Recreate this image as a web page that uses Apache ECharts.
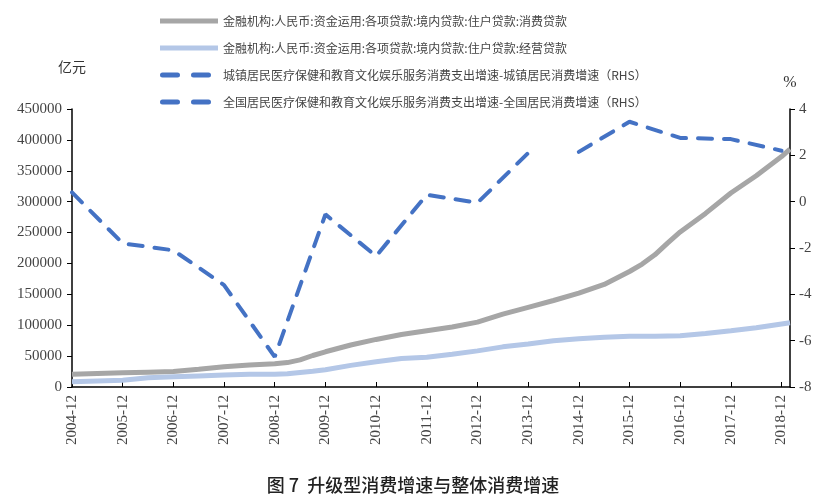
<!DOCTYPE html>
<html><head><meta charset="utf-8">
<script src="https://cdn.jsdelivr.net/npm/echarts@6/dist/echarts.min.js"></script>
<style>html,body{margin:0;padding:0;background:#fff}#c{width:826px;height:501px}</style>
</head><body><div id="c"></div>
<script>
// Loan series (亿元), sampled dates
const loanDates = ['2004-12','2005-06','2005-12','2006-06','2006-12','2007-06','2007-12','2008-06','2008-12','2009-03','2009-06','2009-09','2009-12','2010-06','2010-12','2011-06','2011-12','2012-06','2012-12','2013-06','2013-12','2014-06','2014-12','2015-06','2015-12','2016-03','2016-06','2016-09','2016-12','2017-06','2017-12','2018-06','2018-12','2019-02'];
const consumerLoans = [20500,21800,23000,24000,25000,28800,32900,35600,37500,39500,44000,51000,57000,68000,77000,85000,91000,97000,105000,118000,129000,140000,152000,166000,187000,199000,214000,233000,251000,281000,314000,342000,373000,385000];
const businessLoans = [8600,9800,11000,15000,16500,18000,19300,20500,20500,21500,23500,25500,28000,35000,41000,46000,48000,53000,58500,65000,69500,75000,78000,80500,82000,82000,82000,82500,83000,86500,91000,96000,102000,104000];
// Growth gap series (%), annual
const urbanDates = ['2004-12','2005-12','2006-12','2007-12','2008-12','2009-12','2010-12','2011-12','2012-12','2013-12'];
const urbanGap = [0.4,-1.8,-2.1,-3.6,-6.7,-0.55,-2.35,0.3,-0.05,2.1];
const nationDates = ['2014-12','2015-12','2016-12','2017-12','2018-12'];
const nationGap = [2.15,3.45,2.75,2.7,2.2];
const names = ['金融机构:人民币:资金运用:各项贷款:境内贷款:住户贷款:消费贷款','金融机构:人民币:资金运用:各项贷款:境内贷款:住户贷款:经营贷款','城镇居民医疗保健和教育文化娱乐服务消费支出增速-城镇居民消费增速（RHS）','全国居民医疗保健和教育文化娱乐服务消费支出增速-全国居民消费增速（RHS）'];
const leftTicks = {min:0,max:450000,interval:50000};
const rightTicks = {min:-8,max:4,interval:2};

function mi(s){const p=s.split('-').map(Number);return (p[0]-2004)*12+(p[1]-12);}
function pairs(d,v){return d.map((x,i)=>[mi(x),v[i]]);}

const serif = 'Liberation Serif';
const cjk = 'Noto Sans CJK SC';
const chart = echarts.init(document.getElementById('c'),null,{renderer:'canvas'});
const dash = {color:'#4472C4',width:4,type:[14,12],cap:'round'};
const solidIcon = 'path://M0,0H58V5H0Z';
const dashIcon = 'path://M2.5,0H17.5A2.5,2.5 0 0 1 17.5,5H2.5A2.5,2.5 0 0 1 2.5,0Z M33.5,0H48.5A2.5,2.5 0 0 1 48.5,5H33.5A2.5,2.5 0 0 1 33.5,0Z M58,0L58,5';
chart.setOption({
  animation:false,
  backgroundColor:'#fff',
  title:{text:'图 7  升级型消费增速与整体消费增速',left:'center',top:471,textStyle:{fontFamily:cjk,fontSize:18,fontWeight:500,color:'#222'}},
  legend:{orient:'vertical',left:155,top:10,itemWidth:58,itemHeight:5,itemGap:15,
    textStyle:{fontFamily:cjk,fontSize:12,color:'#444'},
    data:[{name:names[0],icon:solidIcon},{name:names[1],icon:solidIcon},{name:names[2],icon:dashIcon},{name:names[3],icon:dashIcon}]},
  grid:{left:72,right:36,top:109,bottom:114,containLabel:false},
  xAxis:{type:'value',min:0,max:170,interval:12,
    axisLine:{lineStyle:{color:'#000',width:1.5}},
    axisTick:{inside:true,length:5,lineStyle:{color:'#000'}},
    splitLine:{show:false},
    axisLabel:{rotate:90,margin:8,fontFamily:serif,fontSize:15,color:'#444',showMaxLabel:false,
      formatter:v=>(v%12===0&&v<=168)?(2004+v/12)+'-12':''}},
  yAxis:[
    {type:'value',...leftTicks,name:'亿元',nameLocation:'end',nameGap:35,
     nameTextStyle:{fontFamily:cjk,fontSize:14,color:'#333',align:'center'},
     axisLine:{show:true,lineStyle:{color:'#000',width:1.5}},
     axisTick:{show:true,length:5,lineStyle:{color:'#000'}},
     splitLine:{show:false},
     axisLabel:{fontFamily:serif,fontSize:15,color:'#444',margin:10,formatter:v=>String(v)}},
    {type:'value',...rightTicks,position:'right',name:'%',nameLocation:'end',nameGap:18,
     nameTextStyle:{fontFamily:serif,fontSize:16,color:'#333',align:'center'},
     axisLine:{show:true,lineStyle:{color:'#000',width:1.5}},
     axisTick:{show:true,length:5,lineStyle:{color:'#000'}},
     splitLine:{show:false},
     axisLabel:{fontFamily:serif,fontSize:15,color:'#444',margin:9,formatter:v=>String(v)}}
  ],
  series:[
    {name:names[0],type:'line',yAxisIndex:0,showSymbol:false,symbol:'none',data:pairs(loanDates,consumerLoans),
     lineStyle:{color:'#A6A6A6',width:5},itemStyle:{color:'#A6A6A6'}},
    {name:names[1],type:'line',yAxisIndex:0,showSymbol:false,symbol:'none',data:pairs(loanDates,businessLoans),
     lineStyle:{color:'#B4C7E7',width:5},itemStyle:{color:'#B4C7E7'}},
    {name:names[2],type:'line',yAxisIndex:1,showSymbol:false,symbol:'none',data:pairs(urbanDates,urbanGap),
     lineStyle:dash,itemStyle:{color:'#4472C4'}},
    {name:names[3],type:'line',yAxisIndex:1,showSymbol:false,symbol:'none',data:pairs(nationDates,nationGap),
     lineStyle:dash,itemStyle:{color:'#4472C4'}}
  ]
});
</script></body></html>
